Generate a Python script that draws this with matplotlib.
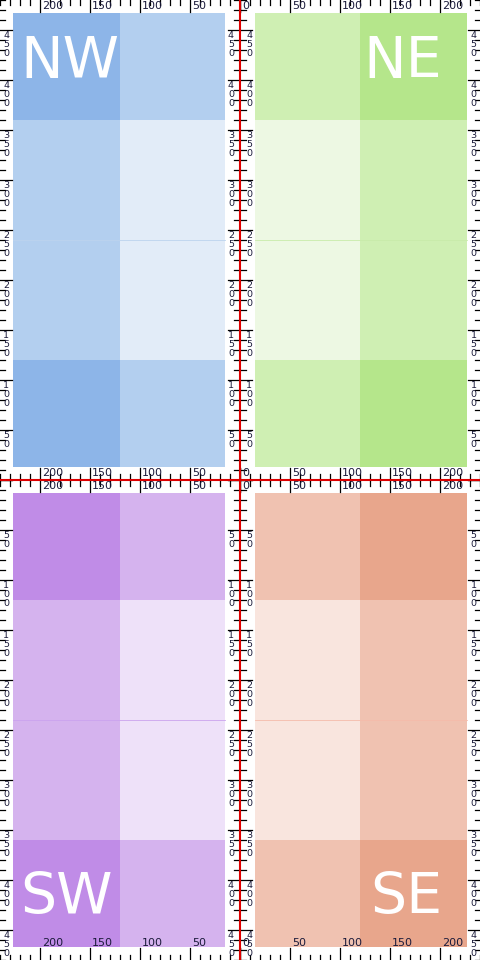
import numpy as np
import matplotlib
matplotlib.use("Agg")
import matplotlib.pyplot as plt

# quadrant setup (distance from the centre, 1 unit = 1 px)
quadrants = ["NW", "NE", "SW", "SE"]
palettes = {
    "NW": ["#e2ecf8", "#b3cfef", "#8db5e8"],
    "NE": ["#edf8e3", "#cfefb3", "#b5e68b"],
    "SW": ["#eee1f9", "#d5b3ee", "#c08ce7"],
    "SE": ["#f9e5de", "#f0c2b1", "#e8a68c"],
}
mid_line = {"NW": "#bcd3ee", "NE": "#c8ebaa", "SW": "#cba3ee", "SE": "#f5bcab"}
col_edges = [15, 120, 227]
row_edges = [13, 120, 240, 360, 467]
outer_cols = [1]
outer_rows = [0, 3]
major_step = 50
minor_step = 10
x_labels = [0, 50, 100, 150, 200]
y_labels = [50, 100, 150, 200, 250, 300, 350, 400, 450]

W, H = 240, 480
fig = plt.figure(figsize=(4.8, 9.6), dpi=100)
pos = {"NW": (0, 0.5), "NE": (0.5, 0.5), "SW": (0, 0), "SE": (0.5, 0)}
lab_kw = dict(fontsize=6.8, color="#1a1a3a", linespacing=0.95, family="DejaVu Sans")

for q in quadrants:
    ax = fig.add_axes([pos[q][0], pos[q][1], 0.5, 0.5])
    left = q[1] == "W"
    top = q[0] == "N"
    ax.set_xlim((W, 0) if left else (0, W))
    ax.set_ylim((0, H) if top else (H, 0))
    ax.axis("off")
    pal = palettes[q]

    # shaded cells
    for i in range(len(col_edges) - 1):
        for j in range(len(row_edges) - 1):
            lvl = (i in outer_cols) + (j in outer_rows)
            ax.fill_between([col_edges[i], col_edges[i + 1]], row_edges[j], row_edges[j + 1],
                            color=pal[lvl], lw=0)
    ax.plot([col_edges[0], col_edges[-1]], [240, 240], color=mid_line[q], lw=0.6)

    # tick marks
    ticks_x = np.arange(0, W + 1, minor_step)
    ticks_y = np.arange(0, H + 1, minor_step)
    for t in ticks_x:
        big = t % major_step == 0
        ax.plot([t, t], [H, H - (12 if big else 5)], color="k", lw=0.9, clip_on=False)
        ax.plot([t, t], [0, 12 if big else 6], color="k", lw=0.9, clip_on=False)
    for t in ticks_y:
        big = t % major_step == 0
        ax.plot([W, W - (12 if big else 5)], [t, t], color="k", lw=0.9, clip_on=False)
        ax.plot([0, 12 if big else 6], [t, t], color="k", lw=0.9, clip_on=False)

    # horizontal ruler labels (text to the right of tick on screen)
    xs = [v for v in x_labels if (v > 0 or not left)]
    for v in xs:
        ax.annotate(str(v), (v, H), xytext=(1.5, -1 if top else 8.5), textcoords="offset points",
                    ha="left", va="top" if top else "bottom", fontsize=8, color="#1a1a3a",
                    annotation_clip=False)
        ax.annotate(str(v), (v, 0), xytext=(1.5, 1.5 if top else -1), textcoords="offset points",
                    ha="left", va="bottom" if top else "top", fontsize=8, color="#1a1a3a",
                    annotation_clip=False)
    # vertical ruler labels (stacked digits, hanging below tick)
    for v in y_labels:
        s = "\n".join(str(v))
        ox = 4.5 if left else -4.5
        ax.annotate(s, (W, v), xytext=(ox, -1), textcoords="offset points",
                    ha="center", va="top", annotation_clip=False, **lab_kw)
        ax.annotate(s, (0, v), xytext=(-ox * 1.45, -1), textcoords="offset points",
                    ha="center", va="top", annotation_clip=False, **lab_kw)

    ax.text(220 if left else 202, 418, q, ha="left" if left else "right", va="center",
            fontsize=41, color="white")

# centre cross
fig.add_artist(plt.Line2D([0.5, 0.5], [0, 1], color="#dd0000", lw=1.5))
fig.add_artist(plt.Line2D([0, 1], [0.5, 0.5], color="#dd0000", lw=1.5))

fig.savefig("out.png", dpi=100)
